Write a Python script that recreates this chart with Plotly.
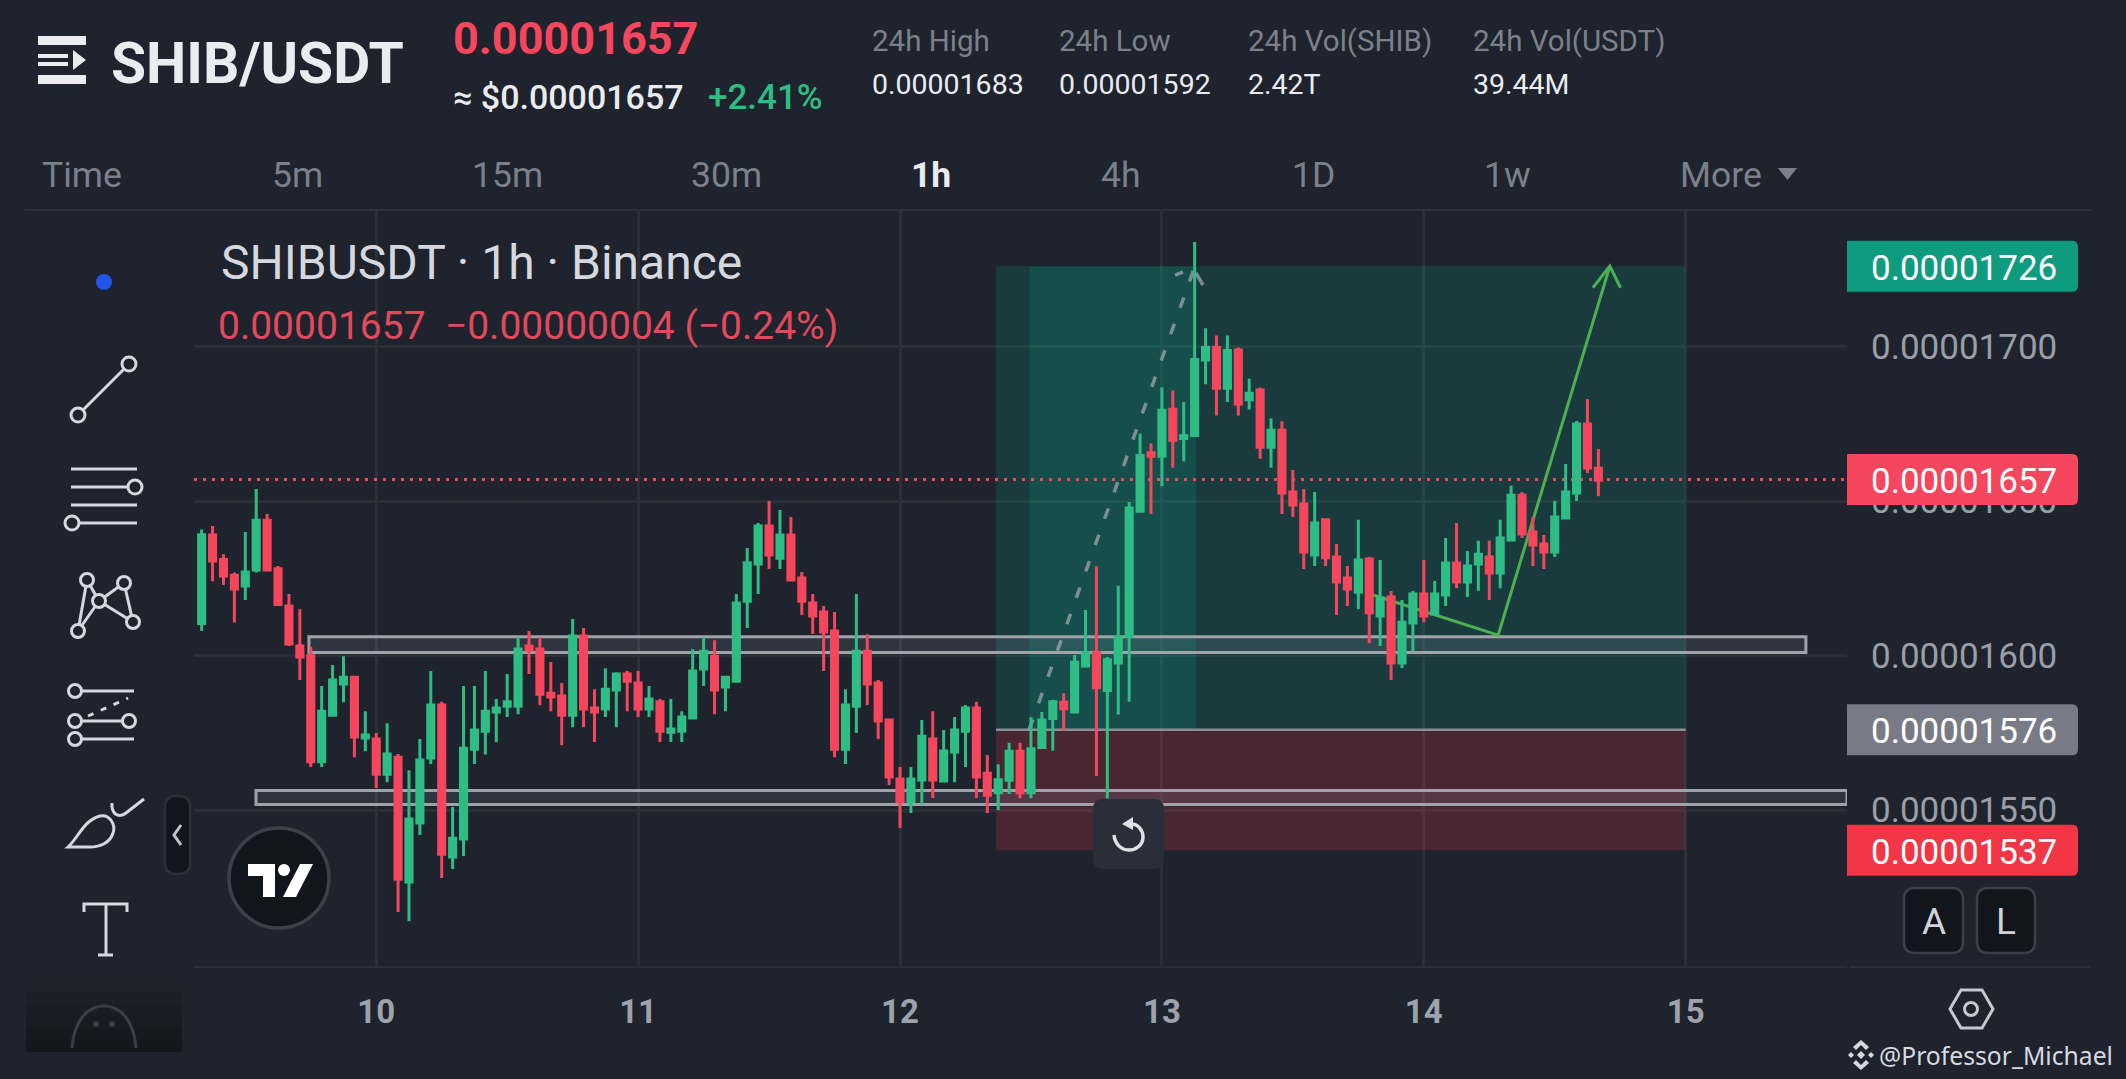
# SHIB/USDT 1h candles with the position tool and the app chrome around them
import numpy as np
import pandas as pd
import plotly.graph_objects as go

W, H = 2126, 1079
UNIT = 1e-8  # prices below are in units of 0.00000001

start = "2024-08-09 08:00"

opens = [1610.4, 1639.0, 1631.1, 1626.0, 1622.5, 1627.7, 1643.8, 1628.1, 1616.0, 1603.1,
         1599.9, 1565.6, 1580.7, 1590.8, 1593.0, 1573.3, 1573.0, 1561.6, 1567.1, 1526.7,
         1545.8, 1566.8, 1584.0, 1534.8, 1540.6, 1569.7, 1575.5, 1581.7, 1583.6, 1583.6,
         1603.1, 1602.1, 1587.8, 1586.9, 1580.7, 1606.3, 1583.0, 1582.7, 1588.8, 1594.0,
         1591.1, 1582.7, 1585.0, 1575.2, 1575.5, 1579.8, 1595.6, 1599.8, 1589.8, 1591.7,
         1617.6, 1629.6, 1641.9, 1631.5, 1639.0, 1625.1, 1617.0, 1614.1, 1607.9, 1569.7,
         1583.6, 1601.4, 1591.1, 1579.1, 1560.0, 1552.6, 1559.7, 1573.0, 1559.4, 1568.8,
         1575.5, 1583.0, 1561.9, 1555.6, 1559.6, 1569.0, 1555.6, 1570.2, 1579.6, 1584.9,
         1581.7, 1596.6, 1600.9, 1588.7, 1597.6, 1606.2, 1646.7, 1665.6, 1664.5, 1679.7,
         1670.2, 1671.2, 1695.6, 1699.7, 1686.5, 1698.9, 1682.8, 1685.9, 1667.4, 1672.9,
         1652.9, 1649.0, 1632.5, 1643.9, 1631.9, 1625.1, 1620.5, 1631.2, 1612.8, 1618.9,
         1597.6, 1610.5, 1619.9, 1613.4, 1619.6, 1629.9, 1623.8, 1629.6, 1631.9, 1626.7,
         1637.4, 1651.9, 1640.0, 1636.1, 1633.5, 1644.5, 1652.6, 1674.9, 1660.6]
highs = [1640.8, 1641.9, 1632.8, 1626.9, 1640.0, 1653.9, 1645.8, 1629.0, 1619.9, 1615.0,
         1602.8, 1590.1, 1596.9, 1599.8, 1593.0, 1582.0, 1574.9, 1578.1, 1568.1, 1562.9,
         1573.0, 1595.0, 1585.0, 1551.0, 1590.1, 1590.1, 1595.0, 1585.9, 1594.0, 1605.9,
         1607.9, 1605.9, 1597.9, 1591.1, 1611.8, 1608.9, 1589.1, 1595.9, 1594.6, 1595.0,
         1595.0, 1590.1, 1585.9, 1585.9, 1582.0, 1602.0, 1605.9, 1604.9, 1593.0, 1619.9,
         1634.8, 1642.9, 1650.0, 1647.1, 1644.8, 1627.0, 1619.9, 1616.0, 1614.1, 1589.1,
         1619.9, 1606.9, 1592.1, 1579.1, 1563.9, 1563.9, 1579.1, 1582.0, 1575.9, 1580.1,
         1584.0, 1585.0, 1567.8, 1564.8, 1571.8, 1571.8, 1580.0, 1581.7, 1585.7, 1587.8,
         1600.2, 1614.7, 1628.9, 1599.5, 1622.6, 1649.7, 1671.8, 1668.6, 1686.7, 1685.8,
         1682.0, 1733.8, 1705.9, 1703.6, 1703.6, 1699.7, 1689.6, 1686.7, 1676.7, 1675.8,
         1660.0, 1653.9, 1652.9, 1643.9, 1636.1, 1629.0, 1643.9, 1631.9, 1630.9, 1620.9,
         1618.0, 1620.9, 1630.9, 1624.1, 1638.0, 1642.9, 1633.8, 1637.1, 1637.1, 1643.9,
         1654.9, 1652.9, 1644.8, 1639.0, 1650.0, 1662.0, 1675.9, 1683.0, 1666.8]
lows = [1607.9, 1624.0, 1622.8, 1610.7, 1618.0, 1626.9, 1627.7, 1616.0, 1603.1, 1592.1,
        1563.9, 1563.9, 1580.7, 1584.9, 1567.1, 1569.0, 1557.1, 1559.0, 1517.0, 1514.0,
        1541.9, 1564.9, 1528.0, 1530.9, 1535.1, 1564.9, 1568.0, 1571.9, 1580.1, 1581.0,
        1594.0, 1583.9, 1582.0, 1571.0, 1576.8, 1576.8, 1572.0, 1580.1, 1576.8, 1582.0,
        1580.1, 1580.1, 1572.0, 1572.0, 1572.0, 1579.8, 1590.1, 1581.0, 1582.0, 1591.7,
        1608.9, 1619.9, 1628.0, 1628.0, 1624.1, 1613.1, 1607.0, 1595.0, 1567.1, 1564.9,
        1574.9, 1584.0, 1573.0, 1558.1, 1544.2, 1549.0, 1551.9, 1553.9, 1559.0, 1559.0,
        1563.9, 1553.9, 1549.0, 1550.0, 1555.2, 1553.8, 1553.8, 1570.2, 1569.2, 1575.8,
        1581.7, 1596.6, 1561.0, 1553.7, 1580.9, 1585.0, 1646.7, 1645.8, 1654.8, 1660.8,
        1662.8, 1671.1, 1687.8, 1677.7, 1682.0, 1677.7, 1679.6, 1663.7, 1660.8, 1645.8,
        1644.8, 1628.0, 1629.0, 1629.0, 1613.1, 1616.0, 1615.0, 1604.0, 1603.1, 1592.1,
        1596.0, 1601.4, 1610.8, 1613.1, 1616.0, 1621.8, 1618.9, 1620.9, 1618.0, 1621.8,
        1637.4, 1638.0, 1629.0, 1628.0, 1631.9, 1644.5, 1650.0, 1659.1, 1651.5]
closes = [1639.1, 1630.6, 1625.7, 1621.5, 1627.0, 1643.8, 1627.7, 1616.5, 1603.7, 1599.5,
          1565.6, 1582.0, 1592.1, 1593.0, 1573.6, 1574.3, 1561.6, 1568.1, 1527.6, 1547.1,
          1566.2, 1584.0, 1535.7, 1540.9, 1570.0, 1575.9, 1582.0, 1583.0, 1585.0, 1602.1,
          1601.8, 1587.5, 1586.6, 1580.7, 1606.3, 1582.7, 1581.7, 1589.1, 1594.0, 1591.7,
          1582.7, 1585.9, 1575.5, 1576.2, 1580.1, 1595.0, 1601.4, 1588.8, 1593.0, 1617.0,
          1630.0, 1641.9, 1632.5, 1639.0, 1624.4, 1617.6, 1612.8, 1607.6, 1569.7, 1584.0,
          1601.4, 1590.8, 1578.8, 1560.7, 1552.6, 1560.0, 1573.9, 1559.7, 1569.1, 1575.9,
          1583.0, 1560.7, 1554.8, 1559.8, 1569.0, 1555.6, 1569.8, 1579.1, 1585.0, 1582.8,
          1597.8, 1600.9, 1589.6, 1598.6, 1605.9, 1647.7, 1664.7, 1664.5, 1679.4, 1669.7,
          1671.1, 1695.8, 1699.7, 1686.5, 1698.7, 1681.4, 1684.9, 1667.4, 1672.9, 1652.6,
          1648.7, 1633.5, 1642.9, 1631.6, 1623.8, 1621.5, 1630.9, 1613.8, 1618.6, 1597.6,
          1610.8, 1619.9, 1612.8, 1619.9, 1629.9, 1623.8, 1629.0, 1632.8, 1626.7, 1638.0,
          1651.9, 1639.3, 1635.8, 1633.5, 1644.8, 1652.9, 1674.9, 1660.7, 1656.7]

y_ticks = [1550, 1600, 1650, 1700]
last_price = 1657
target_price, entry_price, stop_price = 1726, 1576, 1537

# position tool and drawings
pos_start, pos_end = "2024-08-12 08:48", "2024-08-15 00:00"
move_start, move_end = "2024-08-12 11:50", "2024-08-13 03:07"
zone_upper = ["2024-08-09 17:50", "2024-08-15 11:01", 1601.0, 1606.1]
zone_lower = ["2024-08-09 12:59", "2024-08-15 14:47", 1551.8, 1556.3]
dash_times = ["2024-08-12 11:50", "2024-08-13 03:02"]
dash_prices = [1576, 1726]
dash_head_left = (["2024-08-13 01:12", "2024-08-13 01:56"], [1723.1, 1724.1])
dash_head_right = (["2024-08-13 03:07", "2024-08-13 03:46"], [1723.8, 1719.9])
path_times = ["2024-08-13 19:22", "2024-08-14 06:49", "2024-08-14 17:03"]
path_prices = [1619.6, 1606.6, 1726]
head_times = ["2024-08-14 15:30", "2024-08-14 17:03", "2024-08-14 18:02"]
head_prices = [1719, 1726, 1719]

x_range = ["2024-08-09 07:18", "2024-08-15 14:47"]
y_range = [1499.2, 1743.85]

stats_names = ["24h High", "24h Low", "24h Vol(SHIB)", "24h Vol(USDT)"]
stats_values = ["0.00001683", "0.00001592", "2.42T", "39.44M"]
tabs = ["Time", "5m", "15m", "30m", "1h", "4h", "1D", "1w", "More"]

BG = "#1e232d"
UP = "#2ebd85"
DOWN = "#f6465d"
GRID = "#2b3038"
ICON = "#d5d8de"
DIM = "#7b818b"

times = pd.date_range(start, periods=len(opens), freq="h")

fig = go.Figure()
fig.add_trace(go.Candlestick(
    x=times,
    open=np.array(opens) * UNIT, high=np.array(highs) * UNIT,
    low=np.array(lows) * UNIT, close=np.array(closes) * UNIT,
    increasing=dict(line=dict(color=UP, width=3), fillcolor=UP),
    decreasing=dict(line=dict(color=DOWN, width=3), fillcolor=DOWN),
    hoverinfo="skip", showlegend=False))
# empty trace, only there so the pixel overlay axes exist
fig.add_trace(go.Scatter(x=[0], y=[0], xaxis="x2", yaxis="y2", mode="none",
                         hoverinfo="skip", showlegend=False))

shapes = []
notes = []


def chart_rect(x0, x1, p0, p1, fill, line=None, width=0):
    shapes.append(dict(type="rect", xref="x", yref="y", layer="between",
                       x0=x0, x1=x1, y0=p0 * UNIT, y1=p1 * UNIT, fillcolor=fill,
                       line=dict(color=line or "rgba(0,0,0,0)", width=width)))


def chart_path(xs, ps, color, width, dash="solid"):
    pts = ["%s %s,%s" % ("M" if i == 0 else "L", x.replace(" ", "_"), p * UNIT)
           for i, (x, p) in enumerate(zip(xs, ps))]
    shapes.append(dict(type="path", xref="x", yref="y", layer="between",
                       path=" ".join(pts), line=dict(color=color, width=width, dash=dash)))


def ui_path(path, fill="rgba(0,0,0,0)", color=ICON, width=3):
    shapes.append(dict(type="path", xref="x2", yref="y2", layer="above", path=path,
                       fillcolor=fill, line=dict(color=color, width=width)))


def ui_rect(x0, y0, x1, y1, fill, line="rgba(0,0,0,0)", width=0, r=0):
    if r:
        path = ("M %s,%s L %s,%s Q %s,%s %s,%s L %s,%s Q %s,%s %s,%s L %s,%s Q %s,%s %s,%s L %s,%s Q %s,%s %s,%s Z"
                % (x0 + r, y0, x1 - r, y0, x1, y0, x1, y0 + r, x1, y1 - r, x1, y1, x1 - r, y1,
                   x0 + r, y1, x0, y1, x0, y1 - r, x0, y0 + r, x0, y0, x0 + r, y0))
        ui_path(path, fill, line, width)
    else:
        shapes.append(dict(type="rect", xref="x2", yref="y2", layer="above",
                           x0=x0, y0=y0, x1=x1, y1=y1, fillcolor=fill,
                           line=dict(color=line, width=width)))


def ui_line(x0, y0, x1, y1, color=ICON, width=3, dash="solid"):
    shapes.append(dict(type="line", xref="x2", yref="y2", layer="above",
                       x0=x0, y0=y0, x1=x1, y1=y1, line=dict(color=color, width=width, dash=dash)))


def ui_dot(x, y, r, fill=BG, color=ICON, width=3):
    shapes.append(dict(type="circle", xref="x2", yref="y2", layer="above",
                       x0=x - r, x1=x + r, y0=y - r, y1=y + r, fillcolor=fill,
                       line=dict(color=color, width=width)))


def text(x, y, s, size, color, anchor="left", weight=400, family="Roboto"):
    notes.append(dict(xref="x2", yref="y2", x=x, y=y, text=s, showarrow=False,
                      xanchor=anchor, yanchor="middle", borderpad=0,
                      font=dict(family=family, size=size, color=color, weight=weight)))


def price_tag(price, fill):
    # rounded on the right only, held to the price scale
    path = ("M 1847,-25.5 L 2072,-25.5 Q 2078,-25.5 2078,-19.5 L 2078,19.5 "
            "Q 2078,25.5 2072,25.5 L 1847,25.5 Z")
    shapes.append(dict(type="path", xref="x2", yref="y", ysizemode="pixel",
                       yanchor=price * UNIT, layer="above", path=path, fillcolor=fill,
                       line=dict(color="rgba(0,0,0,0)", width=0)))
    notes.append(dict(xref="x2", yref="y", x=1870, y=price * UNIT, text="%.8f" % (price * UNIT),
                      showarrow=False, xanchor="left", yanchor="middle", borderpad=0, yshift=-2,
                      font=dict(family="Roboto", size=35, color="#ffffff")))


# position tool
chart_rect(pos_start, pos_end, entry_price, target_price, "rgba(8,153,129,0.2)")
chart_rect(move_start, move_end, entry_price, target_price, "rgba(8,153,129,0.2)")
chart_rect(pos_start, pos_end, stop_price, entry_price, "rgba(242,54,69,0.2)")
chart_path([pos_start, pos_end], [entry_price, entry_price], "#8b8e94", 2.5)
chart_path(x_range, [last_price, last_price], DOWN, 3, "3px,6px")
chart_path(dash_times, dash_prices, "rgba(160,165,170,0.75)", 3.5, "11px,17px")
chart_path(dash_head_left[0], dash_head_left[1], "rgba(160,165,170,0.75)", 3.5)
chart_path(dash_head_right[0], dash_head_right[1], "rgba(160,165,170,0.75)", 3.5)
for z in (zone_upper, zone_lower):
    chart_rect(z[0], z[1], z[2], z[3], "rgba(190,200,215,0.11)", "#9fa2a8", 3)
chart_path(path_times, path_prices, "#4caf50", 3)
chart_path(head_times, head_prices, "#4caf50", 3)

# header
ui_rect(38, 36, 86, 45, "#eaecef")
ui_rect(38, 75, 86, 84, "#eaecef")
ui_rect(38, 54, 68, 58, "#eaecef")
ui_rect(38, 62, 68, 66, "#eaecef")
ui_path("M 73,50 L 86,60 L 73,70 Z", "#eaecef", "#eaecef", 0)
text(110, 63, "SHIB/USDT", 57, "#eaecef", weight=700)
text(452, 38, "0.00001657", 45, DOWN, weight=700)
text(452, 97, "≈ $0.00001657", 34, "#eaecef", weight=500)
text(707, 97, "+2.41%", 35, UP, weight=500)
for sx, name, value in zip([871, 1058, 1247, 1472], stats_names, stats_values):
    text(sx, 41, name, 29.5, DIM)
    text(sx, 84, value, 28.5, "#eaecef")

for cx, tab in zip([82, 297, 507, 726, 931, 1121, 1313, 1507, 1721], tabs):
    if tab == "1h":
        text(cx, 175, tab, 35.5, "#eaecef", "center", 700)
    else:
        text(cx, 175, tab, 35.5, DIM, "center")
ui_path("M 1778,168 L 1797,168 L 1787.5,180 Z", DIM, DIM, 0)
ui_line(25, 210, 2092, 210, GRID, 2)

text(220, 262, "SHIBUSDT · 1h · Binance", 48, "#d5d8de")
text(217, 326, "0.00001657  −0.00000004 (−0.24%)", 39, "#e04a5c")

# left toolbar
ui_dot(104, 282, 8, "#2354e6", "#2354e6", 0)
ui_line(78, 415, 129, 364)
ui_dot(78, 415, 7)
ui_dot(129, 364, 7)
for ly in (469, 487, 505, 523):
    ui_line(71, ly, 137, ly)
ui_dot(135, 487, 7)
ui_dot(72, 523, 7)
for a, b in [((87, 580), (78, 631)), ((87, 580), (99, 601)), ((99, 601), (124, 583)),
             ((124, 583), (133, 622)), ((99, 601), (133, 622)), ((78, 631), (99, 601))]:
    ui_line(a[0], a[1], b[0], b[1])
for dx, dy in [(87, 580), (124, 583), (99, 601), (78, 631), (133, 622)]:
    ui_dot(dx, dy, 6.5)
ui_line(75, 691, 134, 691)
ui_line(75, 721, 129, 721)
ui_line(75, 739, 134, 739)
ui_line(88, 716, 128, 698, dash="6px,8px")
for dx, dy in [(75, 691), (75, 721), (129, 721), (75, 739)]:
    ui_dot(dx, dy, 6.5)
ui_path("M 68,847 C 78,838 84,820 100,816 C 110,814 116,825 113,833 C 110,843 100,847 90,847 Z")
ui_path("M 112,803 L 112,807 C 113,815 120,818 126,813 L 144,799")
ui_path("M 84,912 L 84,904 L 127,904 L 127,912")
ui_line(106, 904, 106, 955)
ui_line(98, 955, 113, 955)
for i, shade in enumerate(["#1d222b", "#1b1f28", "#191d25", "#171b22", "#151920", "#14171e"]):
    ui_rect(26, 980 + i * 12, 182, 992 + i * 12, shade)
ui_path("M 72,1048 C 74,1020 88,1006 104,1006 C 120,1006 134,1020 136,1048", color="#3a3e46")
ui_dot(96, 1024, 3, "#3a3e46", "#3a3e46", 0)
ui_dot(112, 1024, 3, "#3a3e46", "#3a3e46", 0)
ui_rect(165, 796, 190, 874, "#12151b", "#2b3038", 2.5, 11)
ui_path("M 181,825 L 174,835 L 181,845", color="#c0c3c9", width=3)

# TradingView badge
ui_dot(279, 878, 50, "#12151c", "#3c4048", 3.5)
ui_path("M 248,864 L 275,864 L 275,897 L 263,897 L 263,876 L 248,876 Z", "#ffffff", "#ffffff", 0)
ui_dot(284, 870, 6, "#ffffff", "#ffffff", 0)
ui_path("M 300,864 L 313,864 L 296,897 L 283,897 Z", "#ffffff", "#ffffff", 0)

# go to realtime button
ui_rect(1093, 799, 1164, 869, "#292e38", r=10)
ui_path("M 1131,824 C 1138,824 1143,830 1143,837 C 1143,845 1136,850 1129,850 "
        "C 1121,850 1115,844 1114,835", color="#dfe1e6", width=3.5)
ui_path("M 1133,817 L 1133,830 L 1122,824 Z", "#dfe1e6", "#dfe1e6", 0)

# price scale
price_tag(target_price, "#0e9b7e")
price_tag(last_price, DOWN)
price_tag(entry_price, "#787b86")
price_tag(stop_price, "#f23645")

ui_line(194, 967, 1847, 967, GRID, 2)
ui_line(1850, 967, 2090, 967, GRID, 2)
ui_rect(1904, 888, 1963, 953, "#12151c", "#3a3f48", 2.5, 11)
ui_rect(1977, 888, 2035, 953, "#12151c", "#3a3f48", 2.5, 11)
text(1934, 921, "A", 37, "#d0d3d9", "center")
text(2006, 921, "L", 37, "#d0d3d9", "center")
ui_path("M 1950,1009 L 1961,990 L 1982,990 L 1993,1009 L 1982,1028 L 1961,1028 Z",
        color="#c5c8ce", width=3)
ui_dot(1971, 1009, 6.5, BG, "#c5c8ce", 3)

# watermark
ui_path("M 1853,1047 L 1861,1040 L 1869,1047 L 1866,1050 L 1861,1045 L 1856,1050 Z", "#d8dae0", "#d8dae0", 0)
ui_path("M 1853,1063 L 1861,1070 L 1869,1063 L 1866,1060 L 1861,1065 L 1856,1060 Z", "#d8dae0", "#d8dae0", 0)
ui_path("M 1861,1051 L 1865,1055 L 1861,1059 L 1857,1055 Z", "#d8dae0", "#d8dae0", 0)
ui_path("M 1851,1052 L 1854,1055 L 1851,1058 L 1848,1055 Z", "#d8dae0", "#d8dae0", 0)
ui_path("M 1871,1052 L 1874,1055 L 1871,1058 L 1868,1055 Z", "#d8dae0", "#d8dae0", 0)
text(1878, 1055, "@Professor_Michael", 24.7, "#d8dae0", family="Noto Sans")

fig.update_layout(
    width=W, height=H, margin=dict(l=0, r=0, t=0, b=0),
    paper_bgcolor=BG, plot_bgcolor="rgba(0,0,0,0)", showlegend=False,
    boxgap=0.2, hovermode=False, dragmode=False,
    shapes=shapes, annotations=notes,
    xaxis=dict(type="date", domain=[194 / W, 1847 / W], range=x_range,
               tick0="2024-08-10", dtick=86400000, tickformat="%-d",
               showgrid=True, gridcolor=GRID, gridwidth=2.5, zeroline=False, showline=False,
               ticks="outside", ticklen=15, tickcolor="rgba(0,0,0,0)",
               tickfont=dict(family="Roboto", size=33, color="#9da2ab", weight=700),
               rangeslider=dict(visible=False), anchor="y"),
    yaxis=dict(domain=[1 - 967 / H, 1 - 211 / H], range=[v * UNIT for v in y_range],
               side="right", anchor="x", tickvals=[v * UNIT for v in y_ticks],
               tickformat=".8f", showgrid=True, gridcolor=GRID, gridwidth=2.5,
               zeroline=False, showline=False, ticks="outside", ticklen=16,
               tickcolor="rgba(0,0,0,0)",
               tickfont=dict(family="Roboto", size=35, color="#9a9ea6")),
    xaxis2=dict(domain=[0, 1], range=[0, W], visible=False, anchor="y2"),
    yaxis2=dict(domain=[0, 1], range=[H, 0], visible=False, anchor="x2"),
)

fig.write_html("out.html", config=dict(displayModeBar=False),
               post_script="document.body.style.margin='0';document.body.style.background='%s';" % BG)
